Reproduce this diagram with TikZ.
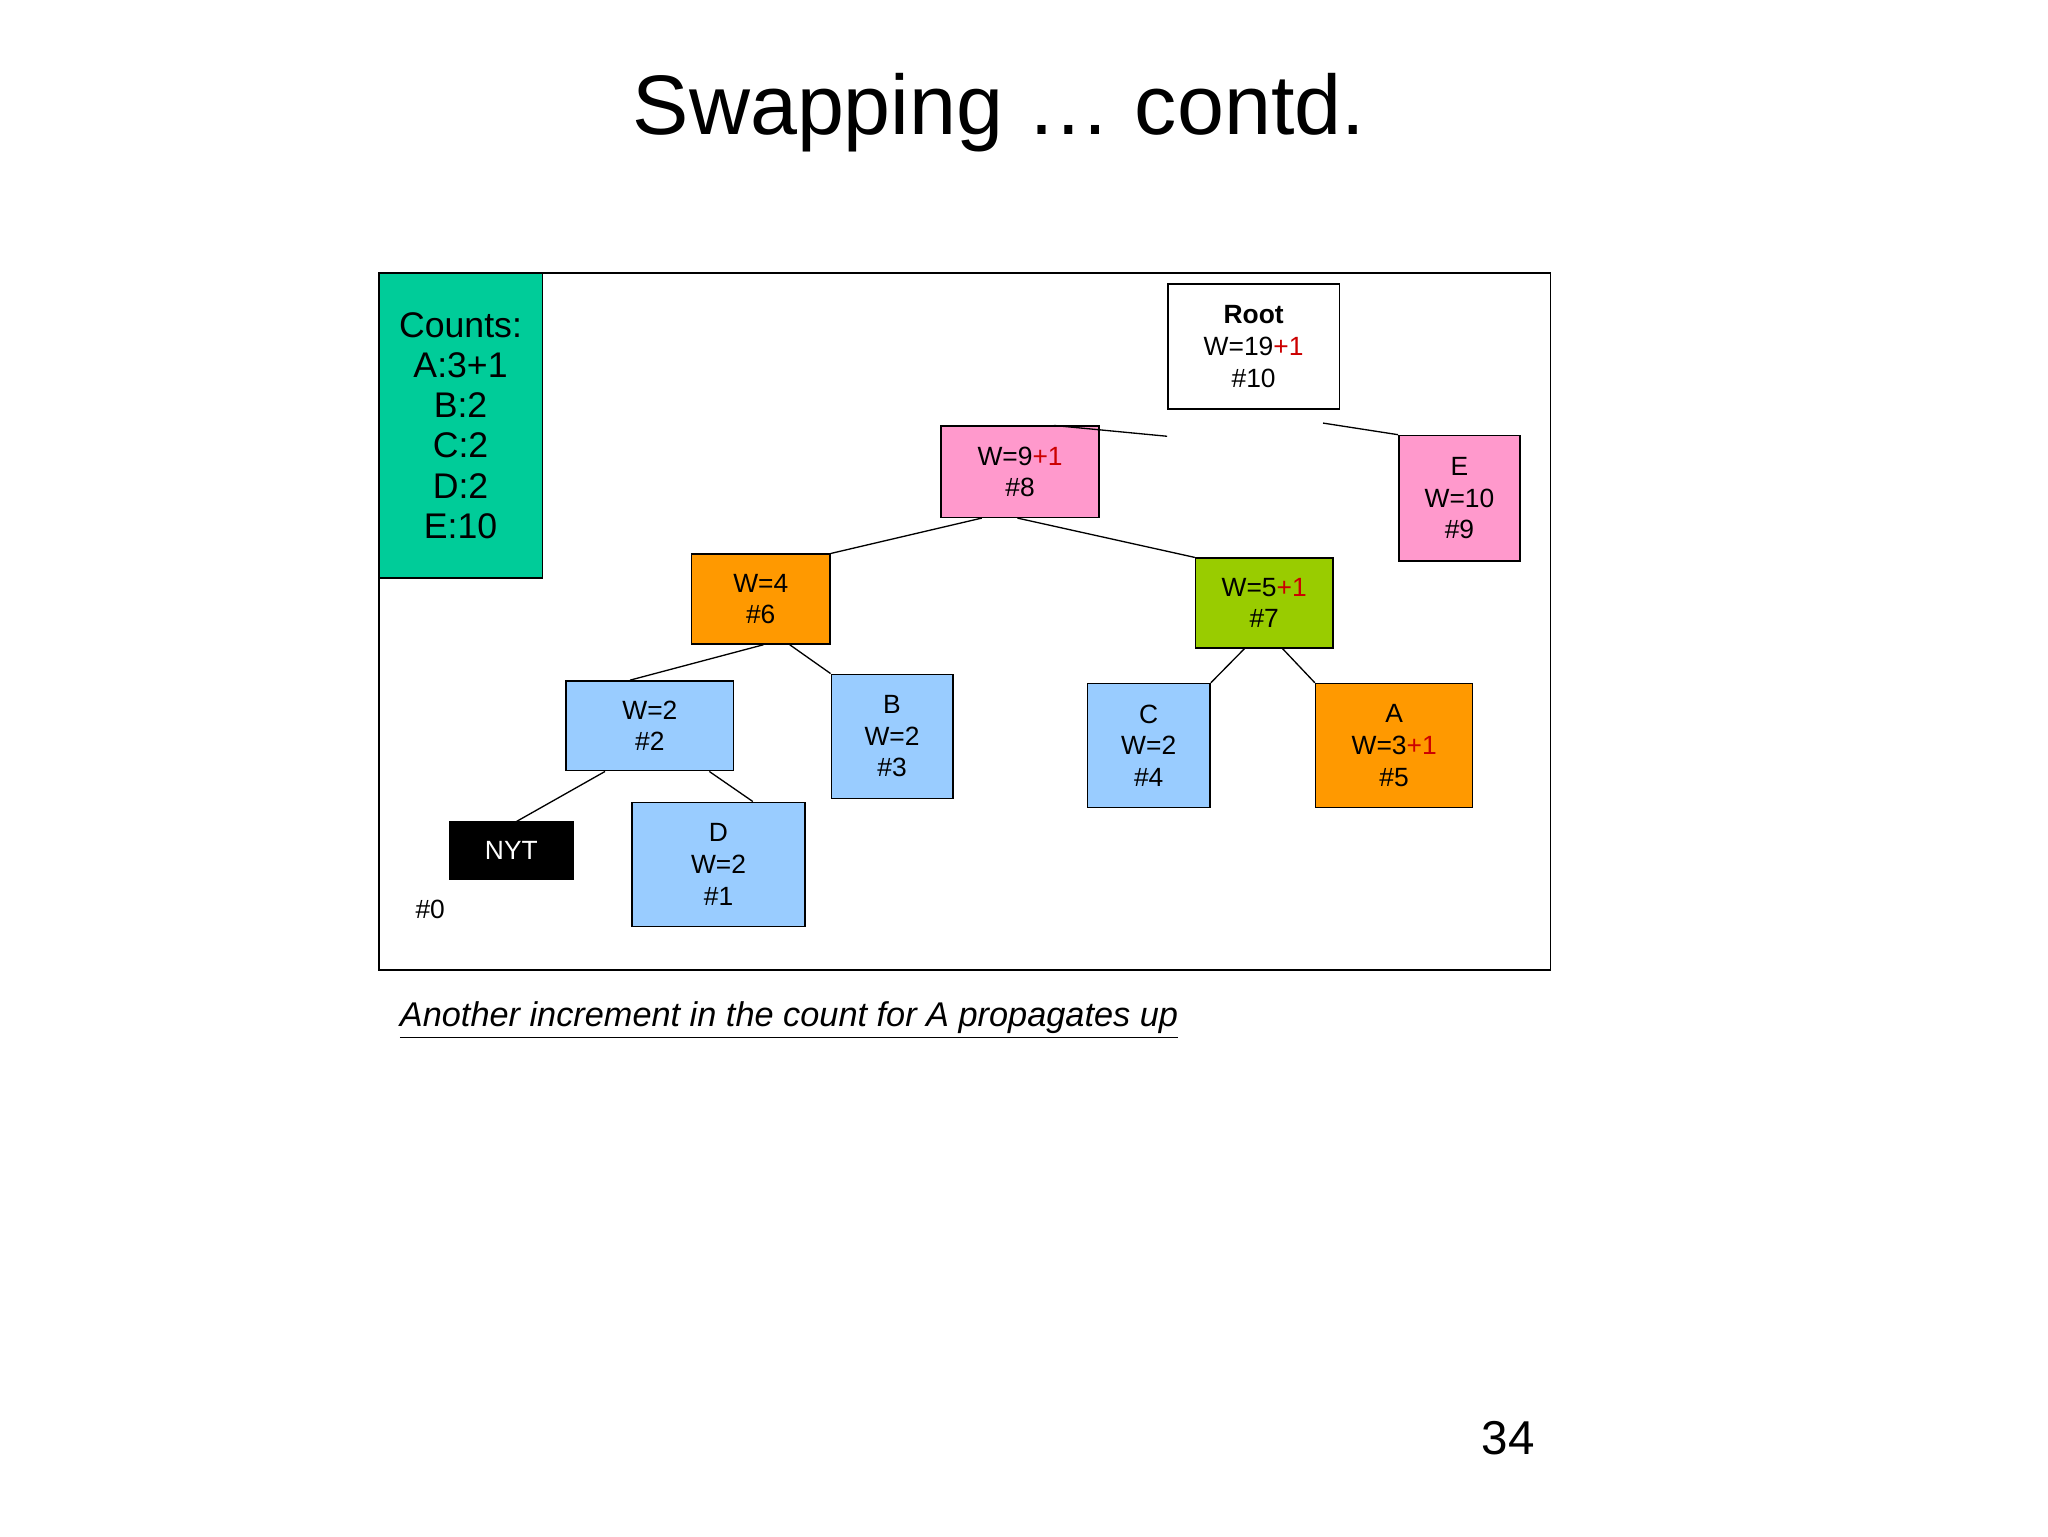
\documentclass[tikz,border=0pt]{standalone}
\usepackage{fontspec}
\setmainfont{Liberation Sans}
\usetikzlibrary{calc}
\definecolor{cgreen}{HTML}{00CC99}
\definecolor{cpink}{HTML}{FF99CC}
\definecolor{corange}{HTML}{FF9900}
\definecolor{clime}{HTML}{99CC00}
\definecolor{cblue}{HTML}{99CCFF}
\definecolor{cred}{HTML}{CC0000}
\newcommand{\plusone}{\textcolor{cred}{+1}}
\begin{document}
\begin{tikzpicture}[x=0.5pt,y=-0.5pt,
  tbox/.style={draw,line width=0.6pt,inner sep=0pt,align=center,font=\fontsize{10}{12}\selectfont},
  edge/.style={line width=0.5pt}]
\useasboundingbox (0,0) rectangle (1552,1164);
\node (title) at (757,85) {\fontsize{32}{36}\selectfont Swapping … contd.};
\node[draw,line width=0.6pt,minimum width=444pt,minimum height=264pt,inner sep=0pt] (frame) at (731,471) {};
\node[tbox,fill=cgreen,minimum width=62pt,minimum height=115.5pt,font=\fontsize{13.5}{15.2}\selectfont] (counts) at (349,322.5) {Counts:\\A:3+1\\B:2\\C:2\\D:2\\E:10};
\node[tbox,fill=white,minimum width=65pt,minimum height=47.5pt] (root) at (950,262.5) {\textbf{Root}\\W=19\plusone\\\#10};
\node[tbox,fill=cpink,minimum width=60pt,minimum height=34.5pt] (n8) at (773,357.5) {W=9\plusone\\\#8};
\node[tbox,fill=cpink,minimum width=46pt,minimum height=47.5pt] (e) at (1106,377.5) {E\\W=10\\\#9};
\node[tbox,fill=corange,minimum width=52.5pt,minimum height=34pt] (n6) at (576.5,454) {W=4\\\#6};
\node[tbox,fill=clime,minimum width=52pt,minimum height=34pt] (n7) at (958,457) {W=5\plusone\\\#7};
\node[tbox,fill=cblue,minimum width=63.5pt,minimum height=34pt] (n2) at (492.5,550) {W=2\\\#2};
\node[tbox,fill=cblue,minimum width=46pt,minimum height=47pt] (b) at (676,558) {B\\W=2\\\#3};
\node[tbox,fill=cblue,minimum width=46.5pt,minimum height=47pt] (c) at (870.5,565) {C\\W=2\\\#4};
\node[tbox,fill=corange,minimum width=59.5pt,minimum height=47pt] (a) at (1056.5,565) {A\\W=3\plusone\\\#5};
\node[tbox,fill=black,text=white,minimum width=46.5pt,minimum height=21.5pt] (nyt) at (387.5,644.5) {NYT};
\node[tbox,fill=cblue,minimum width=65.5pt,minimum height=47pt] (d) at (544.5,655) {D\\W=2\\\#1};
\node[font=\fontsize{10}{12}\selectfont] (n0) at (326,689) {\#0};
\draw[edge] ([yshift=-10pt]root.south west) -- ([xshift=-17.5pt]n8.north east);
\draw[edge] ([xshift=-6.5pt,yshift=-5pt]root.south east) -- (e.north west);
\draw[edge] ([xshift=-14.5pt]n8.south) -- (n6.north east);
\draw[edge] ([xshift=-1pt]n8.south) -- (n7.north west);
\draw[edge] ([xshift=1pt]n6.south) -- ([xshift=-7.5pt]n2.north);
\draw[edge] ([xshift=11pt]n6.south) -- (b.north west);
\draw[edge] ([xshift=-7.5pt]n7.south) -- (c.north east);
\draw[edge] ([xshift=7pt]n7.south) -- (a.north west);
\draw[edge] ([xshift=-17pt]n2.south) -- ([xshift=-21.5pt]nyt.north east);
\draw[edge] ([xshift=22.5pt]n2.south) -- ([xshift=13pt]d.north);
\node[anchor=west,font=\fontsize{13}{15}\selectfont\itshape] (cap) at (296,773) {\underline{Another increment in the count for A propagates up}};
\node[font=\fontsize{18}{20}\selectfont] (pg) at (1143,1090) {34};
\end{tikzpicture}
\end{document}
